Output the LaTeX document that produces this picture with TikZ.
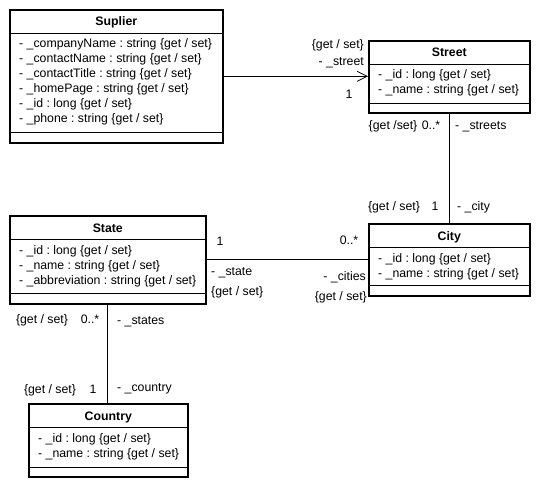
\documentclass[tikz,border=0pt]{standalone}
\usepackage{fontspec}
\setmainfont{Liberation Sans}
\usetikzlibrary{calc,arrows.meta}

\begin{document}
\frenchspacing
\begin{tikzpicture}[x=1bp,y=-1bp]
\tikzset{classbox/.style = {draw, line width=1.6bp, inner sep=0, anchor=north west}}
\tikzset{txt/.style = {inner sep=0, text height=9bp, text depth=3bp, font=\fontsize{12.3bp}{14bp}\selectfont}}
\tikzset{classname/.style = {txt, font=\fontsize{12.3bp}{14bp}\selectfont\bfseries}}
\tikzset{attr/.style = {txt, anchor=west}}
\tikzset{sep/.style = {line width=0.8bp}}
\tikzset{edge/.style = {line width=0.8bp}}
\useasboundingbox (0,0) rectangle (539,486);

% Suplier
\node[classbox, minimum width=213bp, minimum height=133bp] (suplier) at (9,9) {};
\node[classname] (suplier-title) at ($(suplier.north)+(0,14)$) {Suplier};
\draw[sep] ($(suplier.north west)+(0,24)$) -- ($(suplier.north east)+(0,24)$);
\draw[sep] ($(suplier.south west)+(0,-11)$) -- ($(suplier.south east)+(0,-11)$);
\foreach \t [count=\i from 0] in {- \_companyName : string \{get / set\},
  - \_contactName : string \{get / set\}, - \_contactTitle : string \{get / set\},
  - \_homePage : string \{get / set\}, - \_id : long \{get / set\},
  - \_phone : string \{get / set\}}
  \node[attr] (suplier-\i) at ($(suplier.north west)+(10,36+15*\i)$) {\t};

% Street
\node[classbox, minimum width=161bp, minimum height=72bp] (street) at (368,40) {};
\node[classname] (street-title) at ($(street.north)+(0,14)$) {Street};
\draw[sep] ($(street.north west)+(0,24)$) -- ($(street.north east)+(0,24)$);
\draw[sep] ($(street.south west)+(0,-10)$) -- ($(street.south east)+(0,-10)$);
\foreach \t [count=\i from 0] in {- \_id : long \{get / set\}, - \_name : string \{get / set\}}
  \node[attr] (street-\i) at ($(street.north west)+(10,36+15*\i)$) {\t};

% City
\node[classbox, minimum width=161bp, minimum height=72bp] (city) at (368,223) {};
\node[classname] (city-title) at ($(city.north)+(0,14)$) {City};
\draw[sep] ($(city.north west)+(0,24)$) -- ($(city.north east)+(0,24)$);
\draw[sep] ($(city.south west)+(0,-11)$) -- ($(city.south east)+(0,-11)$);
\foreach \t [count=\i from 0] in {- \_id : long \{get / set\}, - \_name : string \{get / set\}}
  \node[attr] (city-\i) at ($(city.north west)+(10,36+15*\i)$) {\t};

% State
\node[classbox, minimum width=196bp, minimum height=88bp] (state) at (9,215) {};
\node[classname] (state-title) at ($(state.north)+(0,14)$) {State};
\draw[sep] ($(state.north west)+(0,24)$) -- ($(state.north east)+(0,24)$);
\draw[sep] ($(state.south west)+(0,-11)$) -- ($(state.south east)+(0,-11)$);
\foreach \t [count=\i from 0] in {- \_id : long \{get / set\}, - \_name : string \{get / set\},
  - \_abbreviation : string \{get / set\}}
  \node[attr] (state-\i) at ($(state.north west)+(10,36+15*\i)$) {\t};

% Country
\node[classbox, minimum width=159bp, minimum height=73bp] (country) at (28,403) {};
\node[classname] (country-title) at ($(country.north)+(0,14)$) {Country};
\draw[sep] ($(country.north west)+(0,24)$) -- ($(country.north east)+(0,24)$);
\draw[sep] ($(country.south west)+(0,-10)$) -- ($(country.south east)+(0,-10)$);
\foreach \t [count=\i from 0] in {- \_id : long \{get / set\}, - \_name : string \{get / set\}}
  \node[attr] (country-\i) at ($(country.north west)+(10,36+15*\i)$) {\t};

% associations
\draw[edge, -{Straight Barb[length=10bp, width=10bp]}] (suplier.east) -- (suplier.east -| street.west);
\draw[edge] (street.south) -- (city.north);
\draw[edge] (state.east) -- (state.east -| city.west);
\draw[edge] (state.south) -- (state.south |- country.north);

% roles and multiplicities
\node[txt, anchor=east] (street-prop) at (364,46) {\{get / set\}};
\node[txt, anchor=east] (street-role) at (364,63) {- \_street};
\node[txt] (street-mult) at (349,96) {1};
\node[txt] (streets-prop) at (393,127) {\{get /set\}};
\node[txt] (streets-mult) at (431,127) {0..*};
\node[txt, anchor=west] (streets-role) at (455,127) {- \_streets};
\node[txt] (city-prop) at (394,208) {\{get / set\}};
\node[txt] (city-mult) at (435,208) {1};
\node[txt, anchor=west] (city-role) at (457,208) {- \_city};
\node[txt] (state-mult) at (220,242) {1};
\node[txt] (cities-mult) at (349,241) {0..*};
\node[txt, anchor=west] (state-role) at (211,272) {- \_state};
\node[txt, anchor=west] (state-prop) at (211,292) {\{get / set\}};
\node[txt, anchor=east] (cities-role) at (366,277) {- \_cities};
\node[txt, anchor=east] (cities-prop) at (367,297) {\{get / set\}};
\node[txt] (states-prop) at (42,320) {\{get / set\}};
\node[txt] (states-mult) at (90,320) {0..*};
\node[txt, anchor=west] (states-role) at (117,321) {- \_states};
\node[txt] (country-prop) at (50,390) {\{get / set\}};
\node[txt] (country-mult) at (93,390) {1};
\node[txt, anchor=west] (country-role) at (117,388) {- \_country};
\end{tikzpicture}
\end{document}
